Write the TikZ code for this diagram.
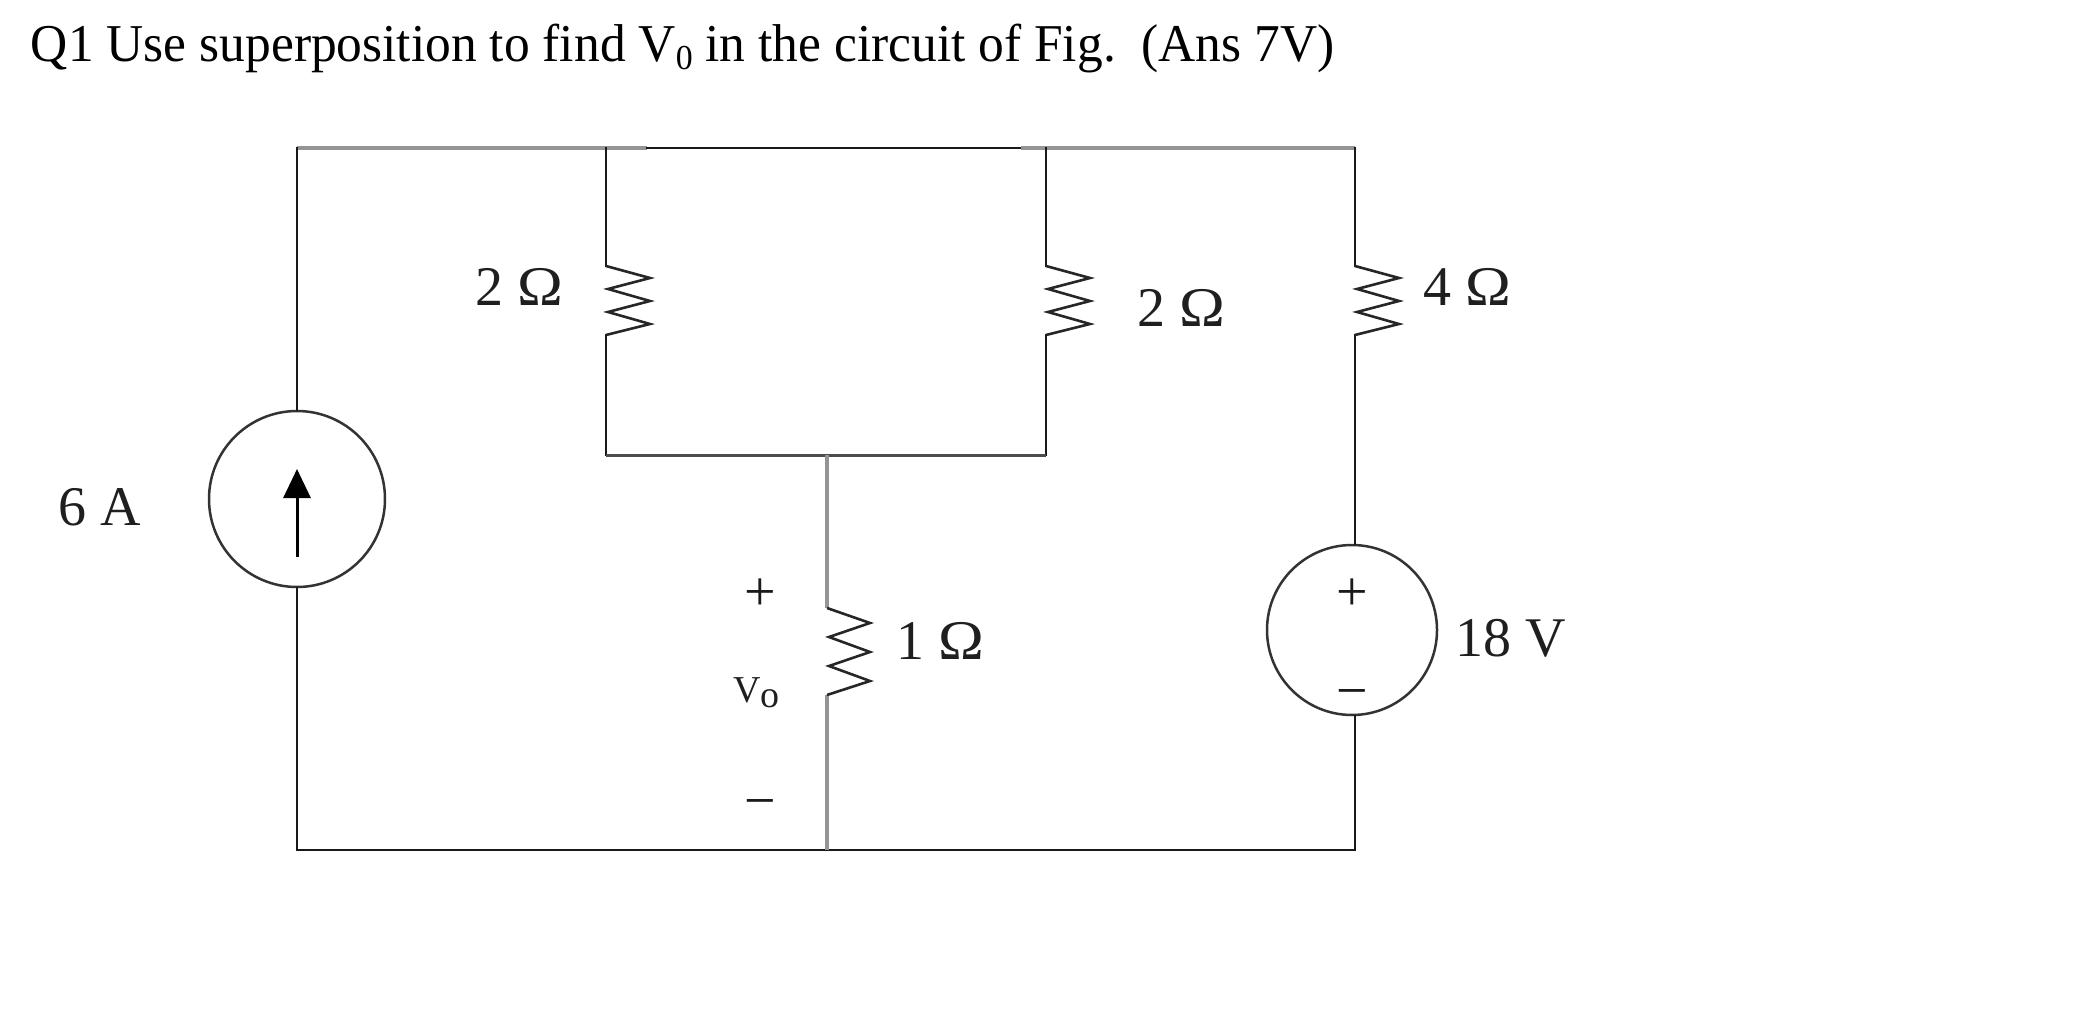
\documentclass[tikz,border=0pt]{standalone}
\usepackage{fontspec}
\setmainfont{Liberation Serif}
\usetikzlibrary{arrows.meta}
\newcommand{\Om}{\scalebox{1.1}[1]{Ω}}
\tikzset{
  x=0.5pt,y=-0.5pt,
  wire/.style={line width=1.45pt,color=black!90,line cap=rect},
  softwire/.style={line width=2pt,color=black!42,line cap=butt},
  midwire/.style={line width=1.5pt,color=black!70},
  zig/.style={line width=1.3pt,color=black!85,line join=miter},
  source/.style={circle,draw=black!80,line width=1.25pt,fill=white,inner sep=0pt},
  lab/.style={anchor=base west,inner sep=0pt,outer sep=0pt,font=\fontsize{28}{30}\selectfont,text=black!88},
  signlab/.style={anchor=center,inner sep=0pt,outer sep=0pt,font=\fontsize{28}{30}\selectfont,text=black!90},
  titletext/.style={anchor=base west,inner sep=0pt,outer sep=0pt,font=\fontsize{26.6}{30}\selectfont,text=black},
  resistor/.pic={\draw[zig] (0,0) -- (44,12) -- (2,23) -- (44,35) -- (2,46) -- (44,58) -- (0,69);}
}
\begin{document}
\begin{tikzpicture}
\useasboundingbox (0,0) rectangle (2082,1032);
% junction coordinates
\coordinate (tl) at (297,148);
\coordinate (j1) at (606,148);
\coordinate (j2) at (1046,148);
\coordinate (tr) at (1355,148);
\coordinate (m1) at (606,455);
\coordinate (m) at (827,455);
\coordinate (m2) at (1046,455);
\coordinate (bl) at (297,850);
\coordinate (b) at (827,850);
\coordinate (br) at (1355,850);
\coordinate (r1t) at (606,266);
\coordinate (r1b) at (606,335);
\coordinate (r2t) at (1046,266);
\coordinate (r2b) at (1046,335);
\coordinate (r3t) at (1355,266);
\coordinate (r3b) at (1355,335);
\coordinate (r4t) at (827,608);
\coordinate (r4b) at (827,695);
\coordinate (gapa) at (647,148);
\coordinate (gapb) at (1021,148);
\coordinate (arrowfrom) at (297,557);
\coordinate (arrowto) at (297,469);
% sources
\node[source,minimum size=88pt] (is) at (297,499) {};
\node[source,minimum size=85pt] (vs) at (1352,630) {};
% wires
\draw[softwire] (tl) -- (j1) -- (gapa);
\draw[wire] (gapa) -- (gapb);
\draw[softwire] (gapb) -- (tr);
\draw[wire] (tl) -- (is.north);
\draw[wire] (is.south) -- (bl) -- (b) -- (br) -- (vs.south -| br);
\draw[wire] (j1) -- (r1t);
\draw[wire] (j2) -- (r2t);
\draw[wire] (tr) -- (r3t);
\draw[wire] (r1b) -- (m1);
\draw[wire] (r2b) -- (m2);
\draw[midwire] (m1) -- (m2);
\draw[wire] (r3b) -- (vs.north -| r3b);
\draw[softwire] (m) -- (r4t);
\draw[softwire] (r4b) -- (b);
% resistors
\pic at (r1t) {resistor};
\pic at (r2t) {resistor};
\pic at (r3t) {resistor};
\draw[zig] (r4t) -- ++(43,15) -- ++(-41,14) -- ++(41,15) -- ++(-41,14) -- ++(41,15) -- (r4b);
% current arrow
\draw[line width=1.5pt,black,-{Triangle[length=14.5pt,width=13.5pt]}] (arrowfrom) -- (arrowto);
% signs
\node[signlab] (vplus) at (1352,595) {+};
\node[signlab] (vminus) at (1352,700) {−};
\node[signlab] (oplus) at (760,595) {+};
\node[signlab] (ominus) at (760,809) {−};
% labels
\node[titletext] (title) at (31,62) {\scalebox{0.9675}[1]{Q1 Use superposition to find V\raisebox{-0.14em}{\fontsize{17.5}{20}\selectfont 0} in the circuit of Fig.\ \ (Ans 7V)}};
\node[lab] (l2a) at (475,306) {2 \Om};
\node[lab] (l2b) at (1137,326) {2 \Om};
\node[lab] (l4) at (1423,306) {4 \Om};
\node[lab] (l1) at (896,659) {1 \Om};
\node[lab] (l18) at (1455,656) {18 V};
\node[lab] (l6) at (58,525) {6 A};
\node[lab,font=\fontsize{19}{20}\selectfont] (lvo) at (733,702) {V\raisebox{-2.5pt}{o}};
\end{tikzpicture}
\end{document}
